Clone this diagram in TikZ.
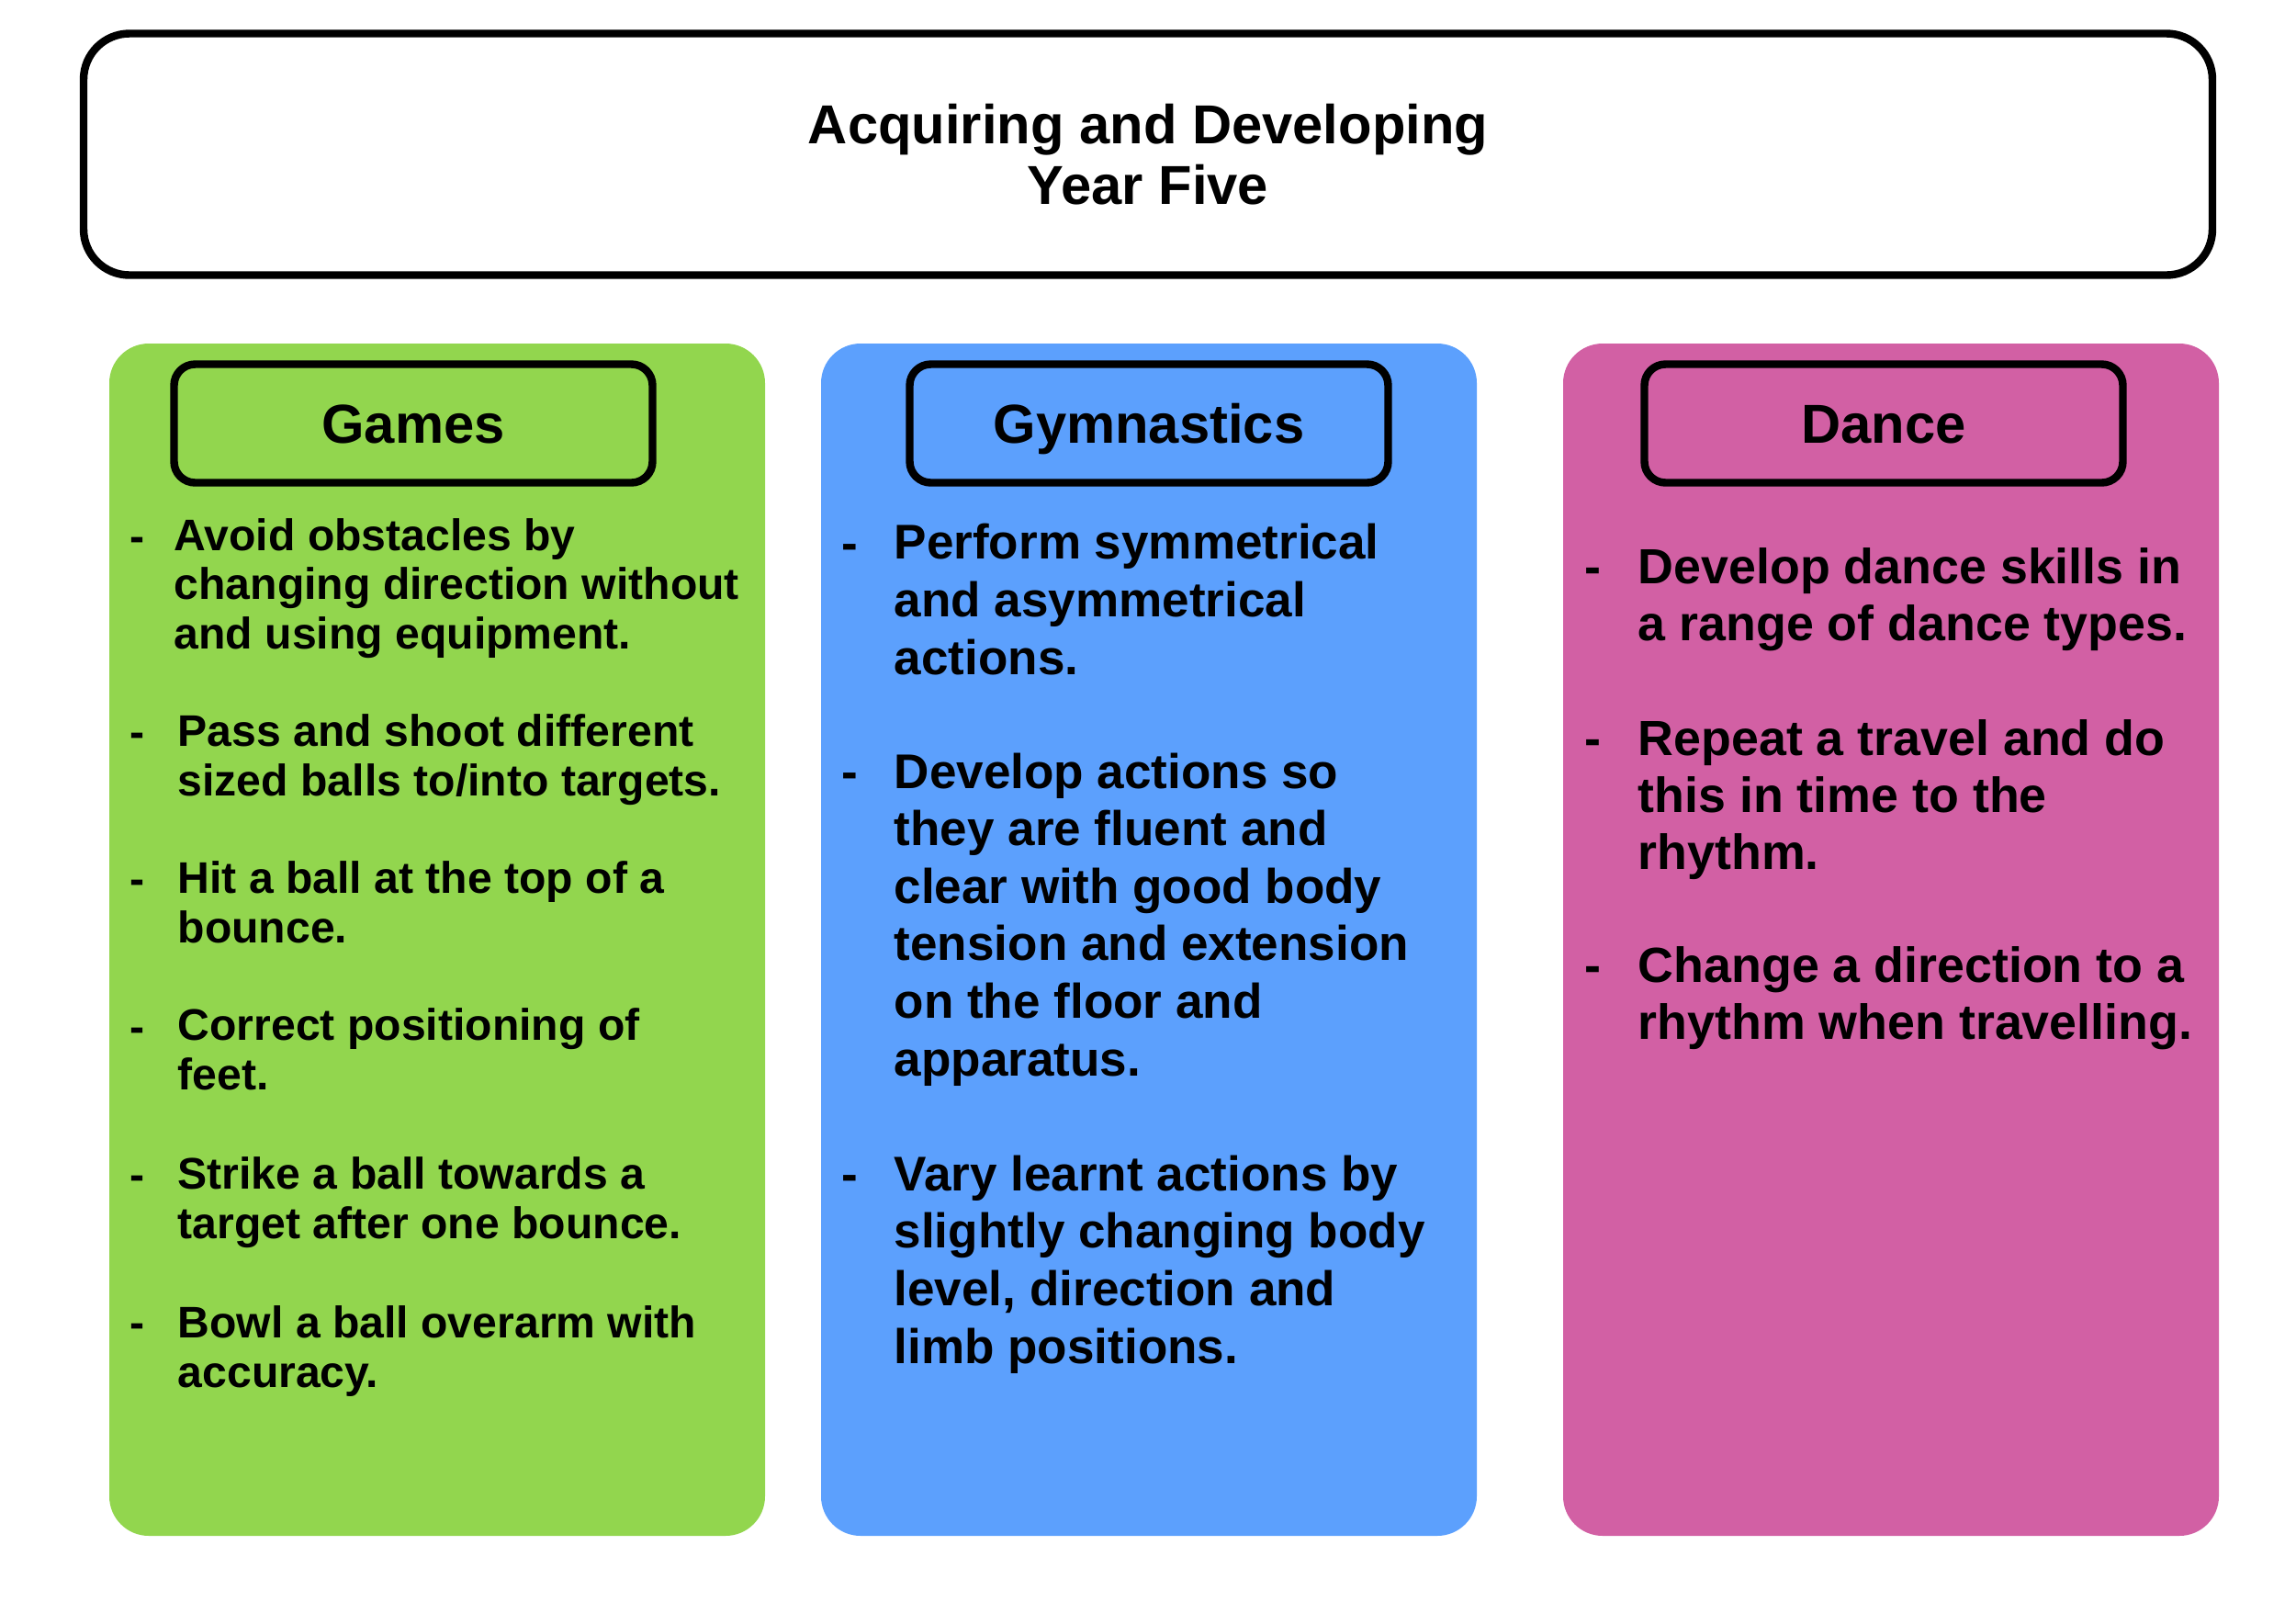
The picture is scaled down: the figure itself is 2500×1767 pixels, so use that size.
\documentclass[tikz,border=0pt]{standalone}
\usepackage{fontspec}
\setmainfont{Liberation Sans}
\definecolor{gamesgreen}{HTML}{92D64E}
\definecolor{gymblue}{HTML}{5CA0FD}
\definecolor{dancepink}{HTML}{D260A4}
\tikzset{
  titlebox/.style={draw, line width=2.4pt, rounded corners=5mm, fill=white, align=center,
    minimum width=231.8mm, minimum height=26.3mm, font=\bfseries\fontsize{17}{18.8}\selectfont},
  panel/.style={rounded corners=4.3mm, minimum width=71.4mm, minimum height=129.8mm},
  headbox/.style={draw, line width=2.4pt, rounded corners=2.3mm, minimum width=52.1mm,
    minimum height=12.9mm, text height=12.4pt, text depth=0pt, font=\bfseries\fontsize{17}{19}\selectfont},
  gitem/.style={anchor=base west, inner sep=0pt, align=left, font=\bfseries\fontsize{13.7}{15.1}\selectfont},
  yitem/.style={anchor=base west, inner sep=0pt, align=left, font=\bfseries\fontsize{15.1}{17.8}\selectfont},
  ditem/.style={anchor=base west, inner sep=0pt, align=left, font=\bfseries\fontsize{15.3}{17.6}\selectfont},
}
\begin{document}
\begin{tikzpicture}[x=0.1mm,y=-0.1mm]
\useasboundingbox (0,0) rectangle (2500,1767);
\node[titlebox] (title) at (1250,168) {Acquiring and Developing\\Year Five};
% panels
\node[panel, fill=gamesgreen] (games) at (476,1023) {};
\node[panel, fill=gymblue] (gym) at (1251,1023) {};
\node[panel, fill=dancepink] (dance) at (2059,1023) {};
\node[headbox] (gameshead) at (450,461) {Games};
\node[headbox] (gymhead) at (1251,461) {Gymnastics};
\node[headbox] (dancehead) at (2051,461) {Dance};
% games
\node[gitem] (gd1) at (141,600) {-};
\node[gitem] (g1) at (189,706) {Avoid obstacles by\\changing direction without\\and using equipment.};
\node[gitem] (gd2) at (141,813) {-};
\node[gitem] (g2) at (193,866) {Pass and shoot different\\sized balls to/into targets.};
\node[gitem] (gd3) at (141,973) {-};
\node[gitem] (g3) at (193,1026) {Hit a ball at the top of a\\bounce.};
\node[gitem] (gd4) at (141,1134) {-};
\node[gitem] (g4) at (193,1186) {Correct positioning of\\feet.};
\node[gitem] (gd5) at (141,1295) {-};
\node[gitem] (g5) at (193,1348) {Strike a ball towards a\\target after one bounce.};
\node[gitem] (gd6) at (141,1456) {-};
\node[gitem] (g6) at (193,1510) {Bowl a ball overarm with\\accuracy.};
% gymnastics
\node[yitem] (yd1) at (916,609) {-};
\node[yitem] (y1) at (973,734) {Perform symmetrical\\and asymmetrical\\actions.};
\node[yitem] (yd2) at (916,858) {-};
\node[yitem] (y2) at (973,1171) {Develop actions so\\they are fluent and\\clear with good body\\tension and extension\\on the floor and\\apparatus.};
\node[yitem] (yd3) at (916,1296) {-};
\node[yitem] (y3) at (973,1484) {Vary learnt actions by\\slightly changing body\\level, direction and\\limb positions.};
% dance
\node[ditem] (dd1) at (1725,635) {-};
\node[ditem] (d1) at (1783,697) {Develop dance skills in\\a range of dance types.};
\node[ditem] (dd2) at (1725,822) {-};
\node[ditem] (d2) at (1783,946) {Repeat a travel and do\\this in time to the\\rhythm.};
\node[ditem] (dd3) at (1725,1069) {-};
\node[ditem] (d3) at (1783,1131) {Change a direction to a\\rhythm when travelling.};
\end{tikzpicture}
\end{document}
